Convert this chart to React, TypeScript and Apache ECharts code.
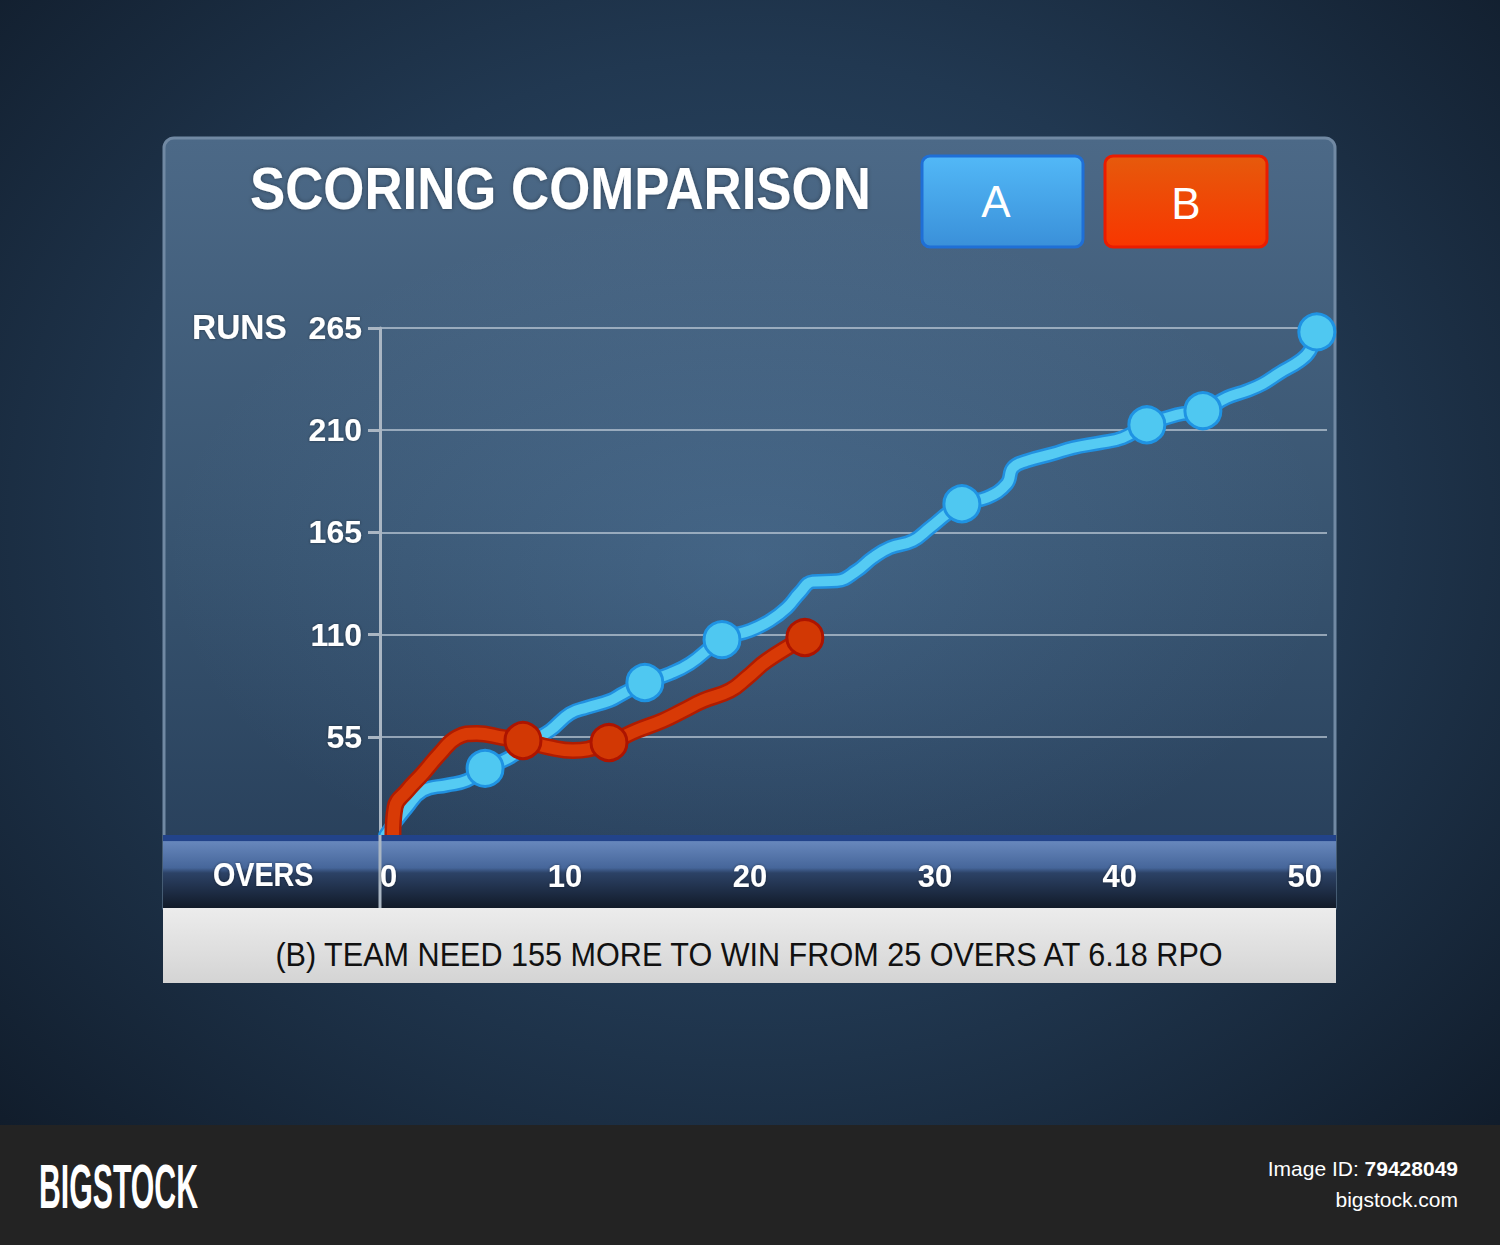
import React, { useEffect, useRef } from "react";
import * as echarts from "echarts";

// ---- data (overs, runs) ----
const teamAOvers = [0.3, 1.46, 2.32, 3.62, 4.7, 5.68, 7.03, 8.11, 9.19, 10.27, 11.19, 12.43, 13.14, 14.32, 15.68, 16.76, 18.49, 20.0, 21.08, 22.0, 22.7, 23.4, 24.7, 25.78, 26.65, 27.57, 28.81, 29.73, 31.46, 32.81, 33.89, 34.22, 34.97, 36.38, 37.46, 38.92, 40.16, 41.46, 43.08, 44.49, 45.78, 46.86, 47.73, 48.65, 49.73, 50.27, 50.65];
const teamARuns = [2, 17, 26, 29, 31.5, 38, 44, 52, 58.4, 67.5, 70.8, 74.5, 78.3, 84.2, 89, 94.4, 107.3, 112.2, 117.5, 124.5, 132.6, 138.5, 139, 144.4, 151.4, 156.8, 160.5, 167.5, 180.4, 183.7, 191.2, 199.8, 203.5, 207.3, 210.5, 213.2, 215.9, 222.9, 228.3, 230.5, 237.5, 241.2, 245, 250.9, 257.3, 262.7, 272.9];
const teamAMarkers = [5, 13, 16, 28, 37, 39, 46];

const teamBOvers = [0.7, 0.81, 1.46, 2.32, 3.24, 4.16, 5.24, 6.65, 7.73, 9.19, 10.43, 12.38, 13.89, 15.3, 16.38, 17.46, 18.92, 19.84, 20.92, 22.97];
const teamBRuns = [2, 17, 26, 35.3, 46, 54.6, 56.8, 54.6, 53, 49.3, 47.6, 51.9, 58.4, 63.8, 69.1, 74.5, 79.9, 86.9, 96, 108.4];
const teamBMarkers = [8, 11, 19];

const yTickLabels = ["", "55", "110", "165", "210", "265"];
const seriesNames = ["A", "B"];

const titleText = "SCORING COMPARISON";
const yAxisTitle = "RUNS";
const xAxisTitle = "OVERS";
const footerText = "(B) TEAM NEED 155 MORE TO WIN FROM 25 OVERS AT 6.18 RPO";

const FONT = "'Liberation Sans', Arial, Helvetica, sans-serif";

function buildData(overs: number[], runs: number[], markers: number[]) {
  return overs.map((o, i) =>
    markers.includes(i)
      ? { value: [o, runs[i]] }
      : { value: [o, runs[i]], symbol: "none" }
  );
}

function plain(overs: number[], runs: number[]) {
  return overs.map((o, i) => [o, runs[i]]);
}

export default function App() {
  const ref = useRef<HTMLDivElement>(null);

  useEffect(() => {
    if (!ref.current) return;
    const chart = echarts.init(ref.current, undefined, { renderer: "svg" });

    const lin = (stops: [number, string][], x2 = 0, y2 = 1) => ({
      type: "linear",
      x: 0,
      y: 0,
      x2,
      y2,
      colorStops: stops.map(([offset, color]) => ({ offset, color })),
    });

    const option: any = {
      animation: false,
      grid: { left: 380, right: 173, top: 328, bottom: 406, containLabel: false },
      xAxis: {
        type: "value",
        min: 0,
        max: 51.2,
        interval: 10,
        z: 60,
        axisLine: { show: false },
        axisTick: { show: false },
        splitLine: { show: false },
        axisLabel: {
          color: "#ffffff",
          fontSize: 31,
          fontWeight: "bold",
          fontFamily: FONT,
          margin: 22,
          alignMinLabel: "left",
          showMaxLabel: false,
          textShadowColor: "rgba(0,0,0,0.45)",
          textShadowBlur: 3,
        },
      },
      yAxis: {
        type: "value",
        min: 0,
        max: 275,
        interval: 55,
        z: 3,
        axisLine: { show: true, lineStyle: { color: "#aab6c3", width: 3 } },
        axisTick: { show: true, length: 12, lineStyle: { color: "#aab6c3", width: 3 } },
        splitLine: { show: true, lineStyle: { color: "rgba(190,202,215,0.7)", width: 2 } },
        axisLabel: {
          color: "#ffffff",
          fontSize: 32,
          fontWeight: "bold",
          fontFamily: FONT,
          margin: 18,
          formatter: (v: number) => yTickLabels[Math.round(v / 55)] ?? "",
          textShadowColor: "rgba(0,0,0,0.45)",
          textShadowBlur: 3,
        },
      },
      series: [
        {
          name: seriesNames[0] + " edge",
          type: "line",
          silent: true,
          z: 4,
          smooth: 0.45,
          showSymbol: false,
          data: plain(teamAOvers, teamARuns),
          lineStyle: { color: "#2190e0", width: 15, cap: "round", join: "round" },
        },
        {
          name: seriesNames[0],
          type: "line",
          z: 5,
          smooth: 0.45,
          symbol: "circle",
          symbolSize: 36,
          data: buildData(teamAOvers, teamARuns, teamAMarkers),
          lineStyle: { color: "#55cbf3", width: 10, cap: "round", join: "round" },
          itemStyle: { color: "#4fc8f1", borderColor: "#1f93e3", borderWidth: 3 },
        },
        {
          name: seriesNames[1] + " edge",
          type: "line",
          silent: true,
          z: 6,
          smooth: 0.45,
          showSymbol: false,
          data: plain(teamBOvers, teamBRuns),
          lineStyle: { color: "#b01c00", width: 17, cap: "round", join: "round" },
        },
        {
          name: seriesNames[1],
          type: "line",
          z: 7,
          smooth: 0.45,
          symbol: "circle",
          symbolSize: 36,
          data: buildData(teamBOvers, teamBRuns, teamBMarkers),
          lineStyle: { color: "#d83a06", width: 12, cap: "round", join: "round" },
          itemStyle: { color: "#d23804", borderColor: "#ad1400", borderWidth: 3 },
        },
      ],
      graphic: [
        // page background
        {
          type: "rect",
          z: -100,
          silent: true,
          shape: { x: 0, y: 0, width: 1500, height: 1245 },
          style: {
            fill: {
              type: "radial",
              x: 0.5,
              y: 0.42,
              r: 0.75,
              colorStops: [
                { offset: 0, color: "#30506f" },
                { offset: 0.5, color: "#213851" },
                { offset: 1, color: "#0e1825" },
              ],
            },
          },
        },
        // panel
        {
          type: "rect",
          z: -90,
          silent: true,
          shape: { x: 164, y: 138, width: 1171, height: 770, r: [10, 10, 0, 0] },
          style: {
            fill: lin([
              [0, "#4c6987"],
              [0.55, "#37536f"],
              [1, "#263d58"],
            ]),
            stroke: "#7189a3",
            lineWidth: 3,
          },
        },
        // panel glow
        {
          type: "rect",
          z: -89,
          silent: true,
          shape: { x: 166, y: 140, width: 1167, height: 695 },
          style: {
            fill: {
              type: "radial",
              x: 0.5,
              y: 0.6,
              r: 0.5,
              colorStops: [
                { offset: 0, color: "rgba(110,160,210,0.22)" },
                { offset: 1, color: "rgba(110,160,210,0)" },
              ],
            },
          },
        },
        // axis band
        {
          type: "rect",
          z: 50,
          silent: true,
          shape: { x: 163, y: 835, width: 1173, height: 73 },
          style: {
            fill: lin([
              [0, "#22438a"],
              [0.08, "#22438a"],
              [0.09, "#6787bc"],
              [0.45, "#46669a"],
              [0.52, "#2c4266"],
              [1, "#111a28"],
            ]),
          },
        },
        // axis line extension through band
        {
          type: "line",
          z: 55,
          silent: true,
          shape: { x1: 380, y1: 835, x2: 380, y2: 908 },
          style: { stroke: "#aab6c3", lineWidth: 3 },
        },
        // footer message box
        {
          type: "rect",
          z: 50,
          silent: true,
          shape: { x: 163, y: 908, width: 1173, height: 75 },
          style: { fill: lin([[0, "#ececec"], [1, "#d4d4d4"]]) },
        },
        {
          type: "text",
          z: 55,
          silent: true,
          x: 749,
          y: 954,
          scaleX: 0.9,
          style: {
            text: footerText,
            fill: "#111111",
            font: `34px ${FONT}`,
            textAlign: "center",
            textVerticalAlign: "middle",
          },
        },
        // title
        {
          type: "text",
          z: 55,
          silent: true,
          x: 250,
          y: 188,
          scaleX: 0.88,
          style: {
            text: titleText,
            fill: "#ffffff",
            font: `bold 60px ${FONT}`,
            textAlign: "left",
            textVerticalAlign: "middle",
            textShadowColor: "rgba(0,0,0,0.4)",
            textShadowBlur: 4,
          },
        },
        // axis titles
        {
          type: "text",
          z: 55,
          silent: true,
          x: 192,
          y: 327,
          scaleX: 0.93,
          style: {
            text: yAxisTitle,
            fill: "#ffffff",
            font: `bold 36px ${FONT}`,
            textAlign: "left",
            textVerticalAlign: "middle",
            textShadowColor: "rgba(0,0,0,0.45)",
            textShadowBlur: 3,
          },
        },
        {
          type: "text",
          z: 60,
          silent: true,
          x: 213,
          y: 875,
          scaleX: 0.87,
          style: {
            text: xAxisTitle,
            fill: "#ffffff",
            font: `bold 33px ${FONT}`,
            textAlign: "left",
            textVerticalAlign: "middle",
            textShadowColor: "rgba(0,0,0,0.45)",
            textShadowBlur: 3,
          },
        },
        // legend boxes
        {
          type: "rect",
          z: 55,
          silent: true,
          shape: { x: 922, y: 156, width: 161, height: 91, r: 8 },
          style: {
            fill: lin([[0, "#52b8f7"], [1, "#3a90d9"]]),
            stroke: "#1f6fd6",
            lineWidth: 3,
          },
        },
        {
          type: "text",
          z: 56,
          silent: true,
          x: 996,
          y: 201,
          style: {
            text: seriesNames[0],
            fill: "#ffffff",
            font: `44px ${FONT}`,
            textAlign: "center",
            textVerticalAlign: "middle",
          },
        },
        {
          type: "rect",
          z: 55,
          silent: true,
          shape: { x: 1105, y: 156, width: 162, height: 91, r: 8 },
          style: {
            fill: lin([[0, "#e65a0c"], [1, "#f83600"]]),
            stroke: "#ea1c00",
            lineWidth: 3,
          },
        },
        {
          type: "text",
          z: 56,
          silent: true,
          x: 1186,
          y: 203,
          style: {
            text: seriesNames[1],
            fill: "#ffffff",
            font: `44px ${FONT}`,
            textAlign: "center",
            textVerticalAlign: "middle",
          },
        },
        // bottom brand bar
        {
          type: "rect",
          z: 70,
          silent: true,
          shape: { x: 0, y: 1125, width: 1500, height: 120 },
          style: { fill: "#232323" },
        },
        {
          type: "text",
          z: 71,
          silent: true,
          x: 39,
          y: 1186,
          scaleX: 0.48,
          style: {
            text: "BIGSTOCK",
            fill: "#ffffff",
            font: `bold 63px ${FONT}`,
            textAlign: "left",
            textVerticalAlign: "middle",
          },
        },
        {
          type: "text",
          z: 71,
          silent: true,
          x: 1458,
          y: 1168,
          style: {
            text: "{a|Image ID: }{b|79428049}",
            rich: {
              a: { fill: "#ffffff", font: `21px ${FONT}` },
              b: { fill: "#ffffff", font: `bold 21px ${FONT}` },
            },
            textAlign: "right",
            textVerticalAlign: "middle",
          },
        },
        {
          type: "text",
          z: 71,
          silent: true,
          x: 1458,
          y: 1199,
          style: {
            text: "bigstock.com",
            fill: "#ffffff",
            font: `21px ${FONT}`,
            textAlign: "right",
            textVerticalAlign: "middle",
          },
        },
      ],
    };

    chart.setOption(option);
    return () => chart.dispose();
  }, []);

  return (
    <div
      ref={ref}
      style={{ position: "absolute", left: 0, top: 0, width: 1500, height: 1245 }}
    />
  );
}
